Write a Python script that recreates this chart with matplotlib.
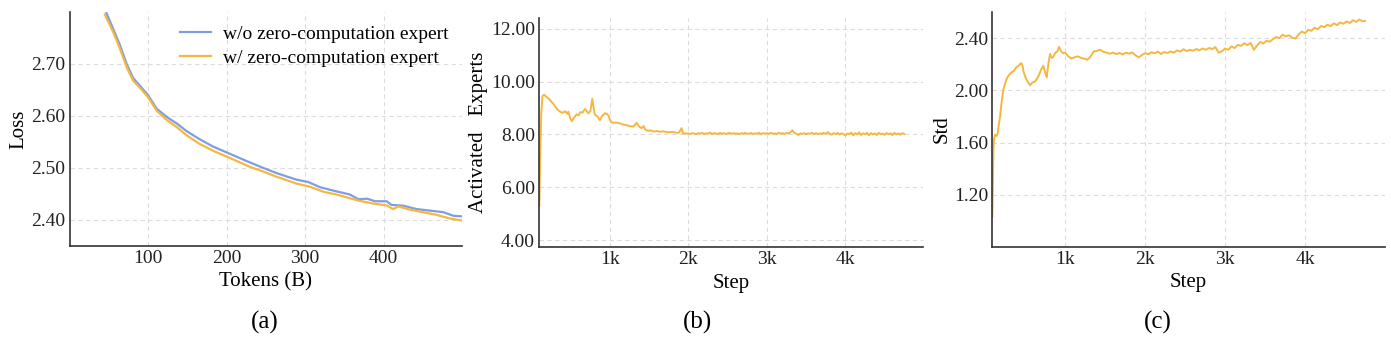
import numpy as np
import matplotlib.pyplot as plt

plt.rcParams['font.family'] = ['Liberation Serif', 'DejaVu Serif']

BLUE = '#7f9de0'
ORANGE = '#f5b740'
SPINE = '#333333'
GRID = '#dcdcdc'

# (a) training loss vs tokens
tokens_wo = [47, 56, 64, 73, 81, 92, 100, 111, 124, 137, 149, 166, 183, 200, 226,
             247, 264, 289, 304, 319, 340, 357, 368, 379, 389, 404, 410, 425, 442,
             459, 476, 489, 500]
loss_wo = [2.798, 2.766, 2.737, 2.699, 2.673, 2.654, 2.640, 2.614, 2.598, 2.585,
           2.571, 2.555, 2.541, 2.530, 2.513, 2.500, 2.490, 2.4775, 2.473, 2.463,
           2.455, 2.449, 2.440, 2.441, 2.436, 2.436, 2.429, 2.4275, 2.421, 2.418,
           2.415, 2.408, 2.407]
tokens_w = [45, 56, 64, 73, 81, 92, 100, 111, 124, 137, 149, 166, 183, 200, 230,
            247, 264, 289, 306, 324, 340, 366, 387, 404, 412, 419, 433, 450, 467,
            484, 500]
loss_w = [2.795, 2.760, 2.730, 2.693, 2.668, 2.650, 2.636, 2.610, 2.592, 2.578,
          2.563, 2.546, 2.533, 2.522, 2.502, 2.493, 2.483, 2.470, 2.464, 2.454,
          2.449, 2.438, 2.4315, 2.428, 2.421, 2.426, 2.420, 2.415, 2.410, 2.403,
          2.399]

# (b) activated experts vs step: early part read point by point,
# flat tail sampled every 25 steps from 2k on
steps_b_early = [100, 110, 125, 140, 160, 190, 220, 250, 280, 310, 340, 370, 400,
                 430, 455, 470, 490, 512, 540, 575, 600, 625, 650, 680, 700, 725,
                 750, 775, 795, 810, 840, 873, 900, 936, 960, 980, 1000, 1020, 1050,
                 1080, 1127, 1160, 1200, 1255, 1300, 1340, 1370, 1404, 1430, 1446,
                 1475, 1520, 1560, 1595, 1640, 1680, 1722, 1760, 1800, 1850, 1880,
                 1913, 1930, 1960]
experts_early = [5.3, 7.0, 8.8, 9.45, 9.50, 9.42, 9.35, 9.25, 9.15, 9.02, 8.92,
                 8.85, 8.82, 8.88, 8.78, 8.86, 8.65, 8.50, 8.62, 8.76, 8.72, 8.85,
                 8.82, 8.96, 8.90, 8.80, 8.88, 9.35, 8.95, 8.74, 8.68, 8.54, 8.70,
                 8.80, 8.78, 8.72, 8.55, 8.46, 8.44, 8.45, 8.42, 8.38, 8.36, 8.31,
                 8.30, 8.44, 8.30, 8.24, 8.32, 8.20, 8.14, 8.15, 8.11, 8.13, 8.10,
                 8.12, 8.09, 8.08, 8.10, 8.06, 8.07, 8.24, 8.05, 8.03]
steps_b_tail = list(range(2000, 4751, 25))
experts_tail = [8.04, 8.02, 8.05, 8.03, 8.01, 8.05, 8.03, 8.06, 8.02, 8.04,
                8.03, 8.07, 8.02, 8.05, 8.04, 8.01, 8.06, 8.03, 8.05, 8.02,
                8.04, 8.06, 8.02, 8.05, 8.03, 8.04, 8.01, 8.05, 8.03, 8.06,
                8.02, 8.04, 8.05, 8.02, 8.04, 8.03, 8.06, 8.01, 8.05, 8.03,
                8.05, 8.02, 8.06, 8.03, 8.04, 8.01, 8.07, 8.03, 8.05, 8.02,
                8.06, 8.04, 8.08, 8.16, 8.05, 8.03, 7.98, 8.04, 8.02, 8.05,
                8.01, 8.04, 8.03, 8.06, 8.02, 8.05, 8.01, 8.04, 8.03, 8.06,
                8.02, 8.09, 8.03, 7.99, 8.05, 8.02, 8.06, 8.00, 8.04, 8.02,
                7.96, 8.04, 8.01, 8.07, 7.97, 8.05, 8.00, 8.08, 7.98, 8.04,
                8.01, 8.06, 7.97, 8.05, 8.00, 8.04, 7.98, 8.06, 8.01, 8.03,
                7.99, 8.05, 8.01, 8.04, 7.98, 8.06, 8.00, 8.04, 7.99, 8.05, 8.02]

# (c) std vs step: warm-up read point by point, then every 40 steps
steps_c_early = [91, 98, 104, 112, 125, 145, 158, 175, 188, 205, 229, 250, 271, 300,
                 333, 360, 380, 396, 420, 450, 465, 479, 500, 521, 540, 562, 590,
                 625, 650, 675, 700, 729, 750, 771, 790, 812, 835, 854, 880, 905,
                 925, 950, 979]
std_early = [1.03, 1.30, 1.52, 1.63, 1.66, 1.65, 1.67, 1.75, 1.80, 1.90, 2.01,
             2.05, 2.09, 2.12, 2.14, 2.15, 2.17, 2.18, 2.19, 2.21, 2.20, 2.15,
             2.11, 2.08, 2.06, 2.04, 2.06, 2.07, 2.09, 2.12, 2.16, 2.19, 2.14,
             2.10, 2.20, 2.28, 2.25, 2.26, 2.29, 2.30, 2.335, 2.30, 2.285]
steps_c_tail = list(range(1000, 4721, 40)) + [4750]
std_tail = [2.290, 2.262, 2.245, 2.255, 2.262, 2.250, 2.244, 2.236, 2.262, 2.300,
            2.304, 2.312, 2.296, 2.290, 2.282, 2.291, 2.279, 2.288, 2.276, 2.290,
            2.283, 2.292, 2.270, 2.254, 2.272, 2.286, 2.278, 2.293, 2.285, 2.298,
            2.280, 2.295, 2.287, 2.300, 2.290, 2.308, 2.298, 2.316, 2.302, 2.312,
            2.305, 2.318, 2.308, 2.322, 2.312, 2.326, 2.318, 2.333, 2.290, 2.300,
            2.322, 2.312, 2.338, 2.326, 2.350, 2.342, 2.362, 2.348, 2.365, 2.312,
            2.345, 2.372, 2.360, 2.382, 2.374, 2.395, 2.410, 2.402, 2.428, 2.415,
            2.424, 2.405, 2.398, 2.430, 2.452, 2.440, 2.466, 2.458, 2.482, 2.470,
            2.495, 2.486, 2.505, 2.494, 2.515, 2.502, 2.522, 2.512, 2.530, 2.518,
            2.540, 2.526, 2.545, 2.530, 2.534]

step_ticks = [1000, 2000, 3000, 4000]
step_labels = ['1k', '2k', '3k', '4k']


def style_axes(ax):
    """Common look: left/bottom spines, dashed light grid, no tick marks"""
    for side in ['top', 'right']:
        ax.spines[side].set_visible(False)
    for side in ['left', 'bottom']:
        ax.spines[side].set_color(SPINE)
        ax.spines[side].set_linewidth(1.2)
    ax.grid(True, color=GRID, linestyle=(0, (4, 3)), linewidth=0.8)
    ax.set_axisbelow(True)
    ax.tick_params(length=0, labelsize=14, pad=3, colors='#222222')


fig = plt.figure(figsize=(13.91, 3.45), dpi=100)

# panel (a)
ax1 = fig.add_axes([0.0500, 0.2870, 0.2822, 0.6783])
ax1.plot(tokens_wo, loss_wo, color=BLUE, linewidth=1.6, label='w/o zero-computation expert')
ax1.plot(tokens_w, loss_w, color=ORANGE, linewidth=1.6, label='w/ zero-computation expert')
ax1.set_xlim(0, 500)
ax1.set_ylim(2.35, 2.80)
ax1.set_xticks([100, 200, 300, 400])
ax1.set_yticks([2.40, 2.50, 2.60, 2.70])
ax1.set_yticklabels(['2.40', '2.50', '2.60', '2.70'])
ax1.set_xlabel('Tokens (B)', fontsize=15, labelpad=4)
ax1.set_ylabel('Loss', fontsize=15, labelpad=2)
ax1.legend(loc='upper right', frameon=False, fontsize=14, handlelength=1.6,
           handletextpad=0.6, borderaxespad=0.3, labelspacing=0.3)
style_axes(ax1)

# panel (b)
ax2 = fig.add_axes([0.3875, 0.2841, 0.2761, 0.6638])
ax2.plot(steps_b_early + steps_b_tail, experts_early + experts_tail,
         color=ORANGE, linewidth=1.4)
ax2.set_xlim(96, 4990)
ax2.set_ylim(3.75, 12.4)
ax2.set_xticks(step_ticks)
ax2.set_xticklabels(step_labels)
ax2.set_yticks([4, 6, 8, 10, 12])
ax2.set_yticklabels(['4.00', '6.00', '8.00', '10.00', '12.00'])
ax2.set_xlabel('Step', fontsize=15, labelpad=4)
ax2.set_ylabel('Activated   Experts', fontsize=15, labelpad=2)
style_axes(ax2)

# panel (c)
ax3 = fig.add_axes([0.7134, 0.2849, 0.2823, 0.6794])
ax3.plot(steps_c_early + steps_c_tail, std_early + std_tail, color=ORANGE, linewidth=1.4)
ax3.set_xlim(91, 5000)
ax3.set_ylim(0.80, 2.60)
ax3.set_xticks(step_ticks)
ax3.set_xticklabels(step_labels)
ax3.set_yticks([1.2, 1.6, 2.0, 2.4])
ax3.set_yticklabels(['1.20', '1.60', '2.00', '2.40'])
ax3.set_xlabel('Step', fontsize=15, labelpad=4)
ax3.set_ylabel('Std', fontsize=15, labelpad=2)
style_axes(ax3)

# sub-figure captions
for x, cap in zip([0.1905, 0.5016, 0.8326], ['(a)', '(b)', '(c)']):
    fig.text(x, 0.064, cap, ha='center', va='center', fontsize=18)

fig.savefig('out.png', dpi=100)
